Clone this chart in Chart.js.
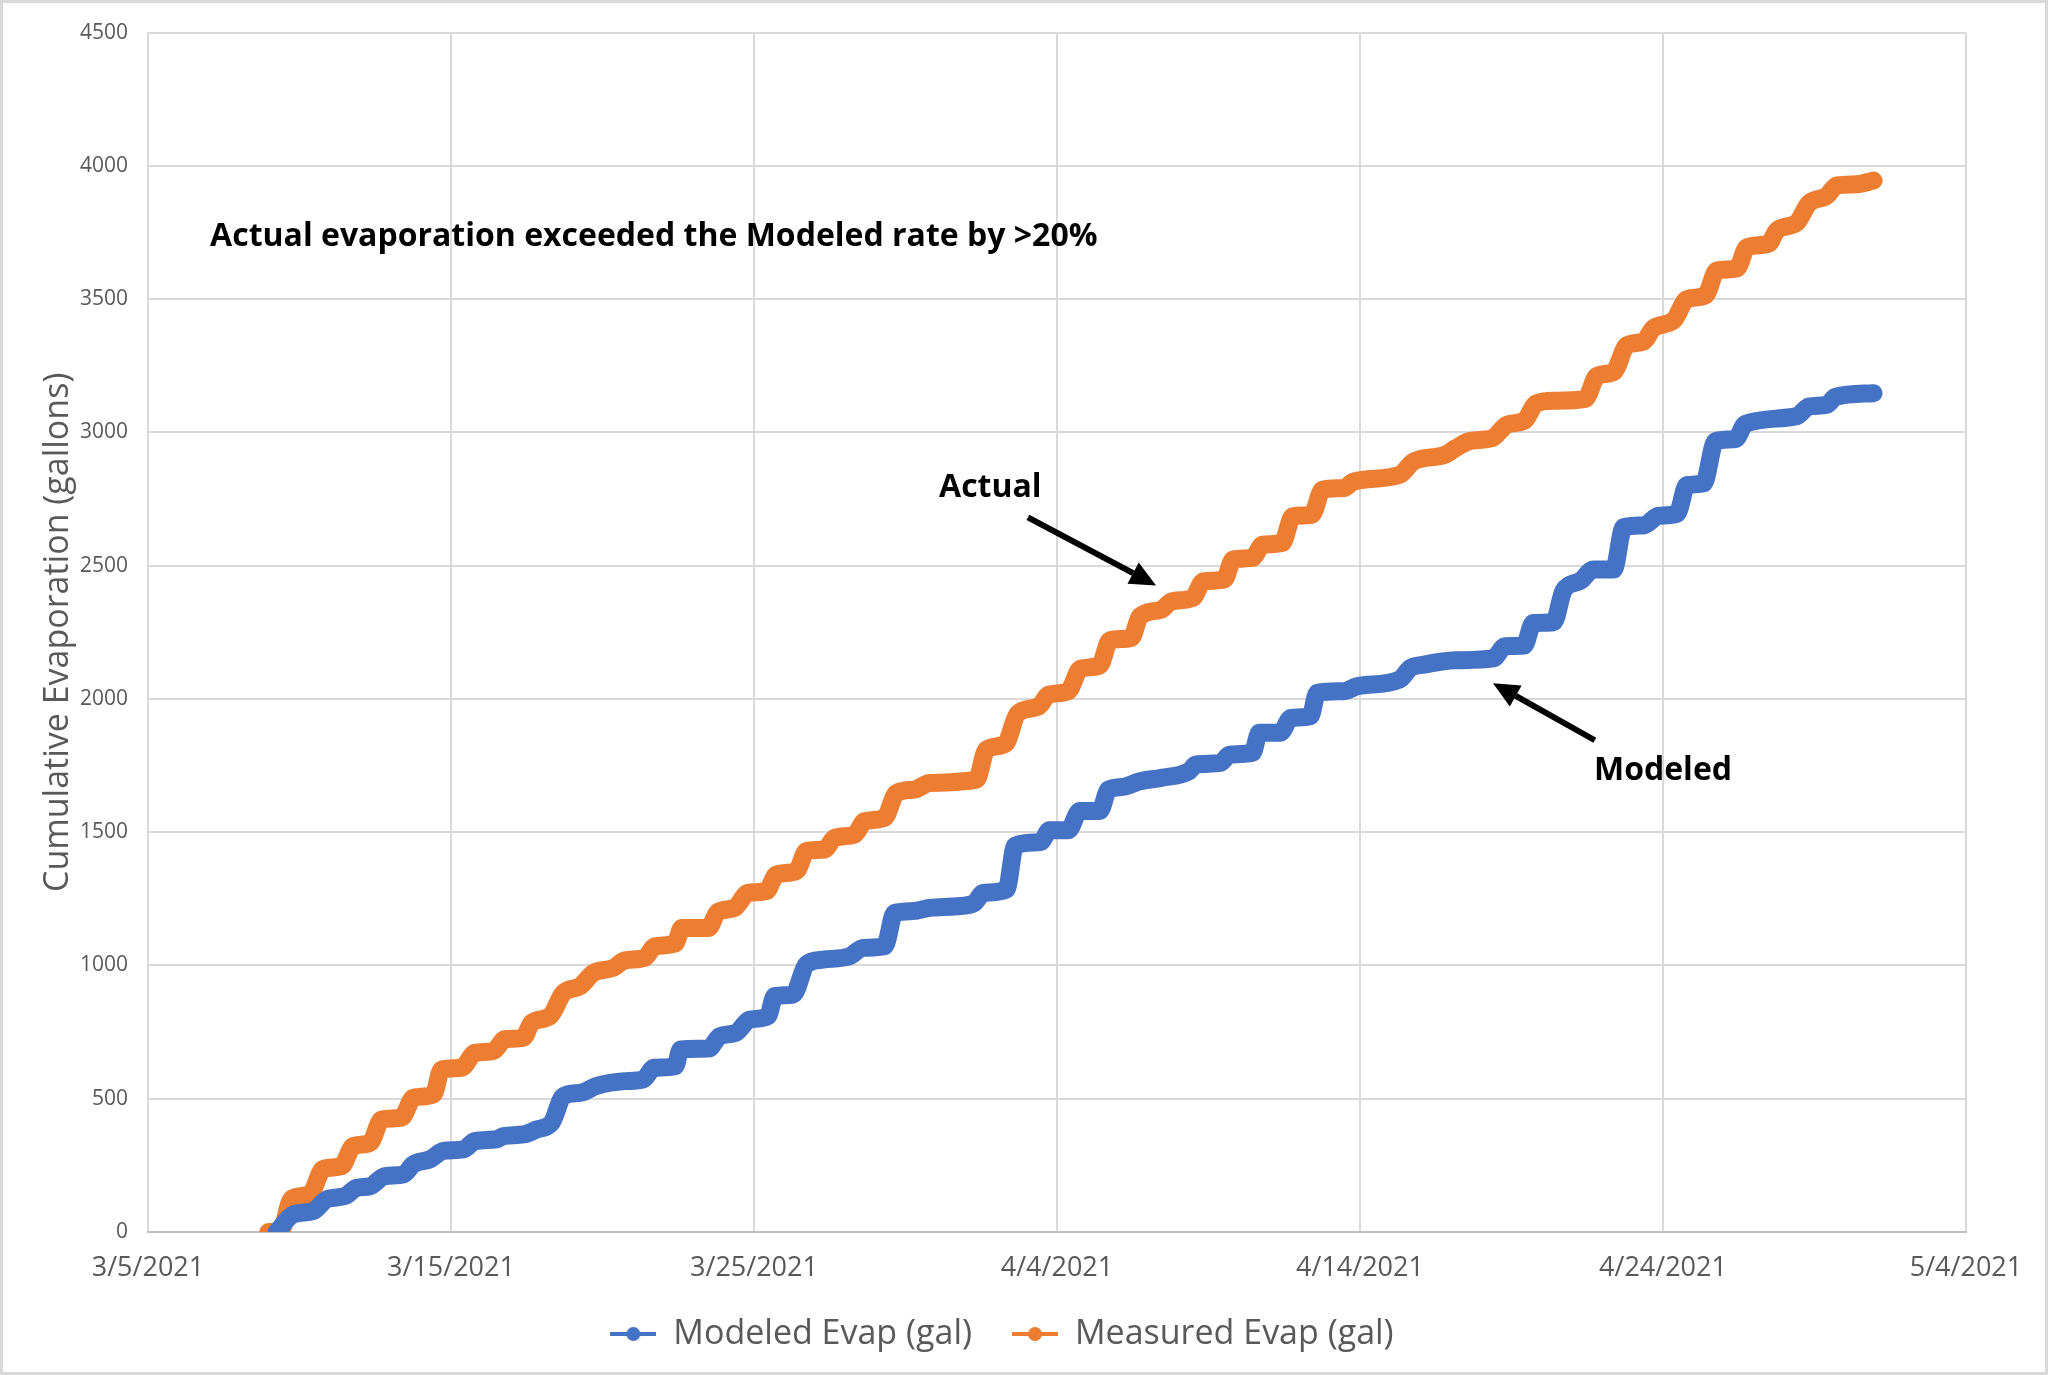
<!DOCTYPE html>
<html>
<head>
<meta charset="utf-8">
<script src="https://cdn.jsdelivr.net/npm/chart.js@4.4.1/dist/chart.umd.min.js"></script>
<style>
  html, body { margin: 0; padding: 0; background: #fff; }
  #wrap { width: 2048px; height: 1375px; }
</style>
</head>
<body>
<div id="wrap"><canvas id="evapChart"></canvas></div>
<script>
// x values are days after 3/5/2021
const xTickLabels = ['3/5/2021', '3/15/2021', '3/25/2021', '4/4/2021', '4/14/2021', '4/24/2021', '5/4/2021'];

const modeledDays = [
  4.25, 4.80, 5.46, 5.90, 6.50, 6.89, 7.33, 7.82, 8.43, 8.76,
  9.31, 9.75, 10.41, 10.79, 11.51, 11.73, 12.39, 12.83, 13.32, 13.71,
  14.26, 14.81, 15.74, 16.35, 16.70, 17.40, 17.58, 18.50, 18.87, 19.40,
  19.86, 20.46, 20.68, 21.29, 21.73, 22.28, 23.16, 23.60, 24.31, 24.64,
  25.25, 25.80, 26.68, 27.28, 27.56, 28.33, 28.62, 29.46, 29.75, 30.37,
  30.75, 31.41, 31.70, 32.16, 32.74, 33.44, 34.36, 34.59, 35.40, 35.69,
  36.45, 36.68, 37.37, 37.72, 38.36, 38.59, 39.46, 39.92, 41.31, 41.66,
  42.12, 43.16, 44.40, 44.79, 45.41, 45.72, 46.39, 46.72, 47.27, 47.71,
  48.37, 48.70, 49.36, 49.86, 50.46, 50.79, 51.34, 51.73, 52.39, 52.72,
  54.42, 54.81, 55.41, 55.69, 56.95
];
const modeledGal = [
  0, 66, 79, 123, 135, 166, 172, 210, 216, 254,
  273, 304, 310, 341, 348, 360, 366, 385, 410, 510,
  522, 548, 566, 573, 616, 622, 685, 688, 735, 747,
  797, 810, 885, 891, 1004, 1022, 1035, 1066, 1072, 1197,
  1204, 1216, 1222, 1235, 1272, 1285, 1450, 1463, 1507, 1507,
  1580, 1580, 1660, 1670, 1691, 1704, 1729, 1754, 1760, 1791,
  1798, 1873, 1873, 1929, 1935, 2023, 2029, 2048, 2073, 2116,
  2129, 2145, 2152, 2198, 2200, 2285, 2288, 2407, 2443, 2486,
  2486, 2644, 2651, 2687, 2694, 2802, 2809, 2967, 2975, 3032,
  3061, 3097, 3104, 3133, 3147
];

const measuredDays = [
  3.97, 4.36, 4.74, 5.35, 5.78, 6.39, 6.77, 7.33, 7.71, 8.37,
  8.76, 9.42, 9.69, 10.35, 10.79, 11.40, 11.78, 12.39, 12.66, 13.27,
  13.71, 14.26, 14.70, 15.36, 15.74, 16.40, 16.73, 17.40, 17.62, 18.50,
  18.80, 19.36, 19.80, 20.41, 20.74, 21.40, 21.73, 22.33, 22.66, 23.32,
  23.65, 24.31, 24.70, 25.30, 25.80, 27.34, 27.67, 28.30, 28.70, 29.40,
  29.72, 30.37, 30.77, 31.41, 31.75, 32.45, 32.74, 33.44, 33.78, 34.48,
  34.83, 35.52, 35.81, 36.45, 36.79, 37.43, 37.78, 38.41, 38.76, 39.46,
  39.80, 41.31, 41.77, 42.81, 43.16, 43.64, 44.35, 44.87, 45.43, 45.80,
  46.39, 47.44, 47.82, 48.37, 48.81, 49.36, 49.69, 50.35, 50.79, 51.40,
  51.78, 52.44, 52.77, 53.49, 53.76, 54.42, 54.81, 55.41, 55.74, 56.40,
  56.95
];
const measuredGal = [
  0, 0, 124, 142, 236, 247, 322, 335, 422, 429,
  504, 516, 610, 616, 672, 679, 723, 729, 785, 810,
  897, 922, 972, 991, 1019, 1029, 1072, 1082, 1141, 1141,
  1200, 1216, 1272, 1279, 1341, 1354, 1429, 1435, 1479, 1491,
  1541, 1554, 1647, 1660, 1685, 1697, 1810, 1832, 1945, 1972,
  2016, 2029, 2113, 2126, 2220, 2229, 2310, 2335, 2366, 2379,
  2441, 2448, 2523, 2529, 2579, 2585, 2685, 2691, 2785, 2791,
  2816, 2841, 2891, 2916, 2941, 2968, 2978, 3030, 3044, 3108,
  3119, 3126, 3212, 3226, 3327, 3341, 3392, 3420, 3500, 3514,
  3607, 3615, 3694, 3708, 3758, 3787, 3859, 3888, 3927, 3931,
  3945
];

const BLUE = '#4472C4';
const ORANGE = '#ED7D31';
const GRAY = '#595959';
const FONT = '"Liberation Sans Narrow", "Open Sans", sans-serif';

function legendIcon(color) {
  const c = document.createElement('canvas');
  c.width = 46; c.height = 18;
  const g = c.getContext('2d');
  g.strokeStyle = color; g.lineWidth = 4;
  g.beginPath(); g.moveTo(0, 9); g.lineTo(46, 9); g.stroke();
  g.fillStyle = color;
  g.beginPath(); g.arc(23, 9, 7, 0, Math.PI * 2); g.fill();
  return c;
}

// annotation texts and arrows, placed in data units
const notes = {
  id: 'notes',
  afterDatasetsDraw(chart) {
    const { ctx, scales: { x, y } } = chart;
    ctx.save();
    ctx.fillStyle = '#000';
    ctx.font = 'bold 32px ' + FONT;
    ctx.textBaseline = 'middle';
    ctx.textAlign = 'left';
    ctx.fillText('Actual evaporation exceeded the Modeled rate by >20%', x.getPixelForValue(2.05), y.getPixelForValue(3735));
    ctx.textAlign = 'center';
    ctx.fillText('Actual', x.getPixelForValue(27.8), y.getPixelForValue(2790));
    ctx.fillText('Modeled', x.getPixelForValue(50.0), y.getPixelForValue(1729));

    const arrow = (d0, v0, d1, v1) => {
      const x0 = x.getPixelForValue(d0), y0 = y.getPixelForValue(v0);
      const x1 = x.getPixelForValue(d1), y1 = y.getPixelForValue(v1);
      const a = Math.atan2(y1 - y0, x1 - x0);
      const head = 26, half = 12;
      const bx = x1 - head * Math.cos(a), by = y1 - head * Math.sin(a);
      ctx.strokeStyle = '#000';
      ctx.lineWidth = 6;
      ctx.beginPath(); ctx.moveTo(x0, y0); ctx.lineTo(bx, by); ctx.stroke();
      ctx.beginPath();
      ctx.moveTo(x1, y1);
      ctx.lineTo(bx + half * Math.sin(a), by - half * Math.cos(a));
      ctx.lineTo(bx - half * Math.sin(a), by + half * Math.cos(a));
      ctx.closePath(); ctx.fill();
    };
    arrow(29.04, 2681, 33.27, 2426);
    arrow(47.75, 1845, 44.39, 2059);
    ctx.restore();
  },
  afterDraw(chart) {
    const ctx = chart.ctx;
    ctx.save();
    ctx.strokeStyle = '#d9d9d9';
    ctx.lineWidth = 3;
    ctx.strokeRect(1.5, 1.5, chart.width - 3, chart.height - 3);
    ctx.restore();
  }
};

const whiteBg = {
  id: 'whiteBg',
  beforeDraw(chart) {
    const ctx = chart.ctx;
    ctx.save();
    ctx.fillStyle = '#fff';
    ctx.fillRect(0, 0, chart.width, chart.height);
    ctx.restore();
  }
};

const ctx = document.getElementById('evapChart').getContext('2d');
new Chart(ctx, {
  type: 'line',
  plugins: [whiteBg, notes],
  data: {
    datasets: [{
      label: 'Modeled Evap (gal)',
      data: modeledDays.map((d, i) => ({ x: d, y: modeledGal[i] })),
      borderColor: BLUE,
      backgroundColor: BLUE,
      pointStyle: legendIcon(BLUE),
    }, {
      label: 'Measured Evap (gal)',
      data: measuredDays.map((d, i) => ({ x: d, y: measuredGal[i] })),
      borderColor: ORANGE,
      backgroundColor: ORANGE,
      pointStyle: legendIcon(ORANGE),
    }]
  },
  options: {
    responsive: true,
    maintainAspectRatio: false,
    animation: false,
    devicePixelRatio: 1,
    datasets: {
      line: {
        borderWidth: 18,
        pointRadius: 0,
        pointHoverRadius: 0,
        cubicInterpolationMode: 'monotone',
        borderCapStyle: 'round',
        borderJoinStyle: 'round',
      }
    },
    layout: { padding: { top: 31, left: 38, right: 82, bottom: 14 } },
    plugins: {
      tooltip: { enabled: false },
      legend: {
        position: 'bottom',
        labels: {
          usePointStyle: true,
          pointStyleWidth: 46,
          color: GRAY,
          padding: 40,
          font: { family: FONT, size: 34 },
        }
      }
    },
    scales: {
      x: {
        type: 'linear',
        min: 0,
        max: 60,
        afterFit: (s) => { s.height = 45; },
        ticks: {
          stepSize: 10,
          color: GRAY,
          padding: 20,
          maxRotation: 0,
          font: { family: FONT, size: 27 },
          callback: (v) => xTickLabels[Math.round(v / 10)],
        },
        grid: { color: '#d9d9d9', lineWidth: 2, drawTicks: false },
        border: { color: '#bfbfbf', width: 2 },
      },
      y: {
        min: 0,
        max: 4500,
        afterFit: (s) => { s.width = 110; },
        ticks: {
          stepSize: 500,
          color: GRAY,
          padding: 20,
          font: { family: FONT, size: 21 },
          callback: (v) => String(v),
        },
        grid: { color: '#d9d9d9', lineWidth: 2, drawTicks: false },
        border: { display: false },
        title: {
          display: true,
          text: 'Cumulative Evaporation (gallons)',
          color: GRAY,
          padding: 0,
          font: { family: FONT, size: 34 },
        }
      }
    }
  }
});
</script>
</body>
</html>
